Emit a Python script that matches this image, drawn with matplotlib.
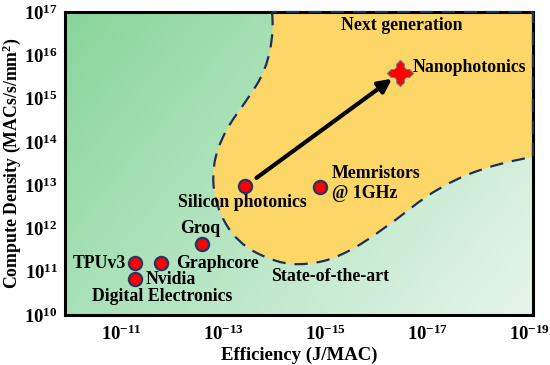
import numpy as np
import matplotlib
matplotlib.use("Agg")
import matplotlib.pyplot as plt
from matplotlib.path import Path
from matplotlib.patches import PathPatch
from matplotlib.colors import LinearSegmentedColormap

plt.rcParams['font.family'] = ['Liberation Serif', 'DejaVu Serif']
plt.rcParams['font.weight'] = 'bold'
plt.rcParams['mathtext.fontset'] = 'custom'
plt.rcParams['mathtext.rm'] = 'Liberation Serif:bold'
plt.rcParams['mathtext.it'] = 'Liberation Serif:bold:italic'
plt.rcParams['mathtext.bf'] = 'Liberation Serif:bold'

# === DATA ===
chips = ["TPUv3", "Graphcore", "Nvidia", "Groq", "Silicon photonics", "Memristors"]
efficiency = [5.3e-12, 1.66e-12, 5.3e-12, 2.6e-13, 3.7e-14, 1.3e-15]   # J/MAC
density = [1.6e11, 1.6e11, 6.8e10, 4.4e11, 9.5e12, 9.1e12]            # MACs/s/mm^2

nano_eff = 3.5e-17
nano_dens = 3.9e15

x_ticks = [1e-11, 1e-13, 1e-15, 1e-17, 1e-19]
y_ticks = [1e10, 1e11, 1e12, 1e13, 1e14, 1e15, 1e16, 1e17]
xlim = (1.25e-10, 8.7e-20)
ylim = (1e10, 1e17)

# boundary of the "next generation" region (log10 J/MAC, log10 density)
region_logx = [-13.955, -13.994, -13.838, -13.466, -13.035, -12.781, -12.84, -13.27,
               -14.053, -14.64, -15.286, -16.127, -17.24, -18.417, -19.06]
region_logy = [17.0, 16.58, 15.66, 14.965, 14.27, 13.46, 12.54, 11.66,
               11.20, 11.155, 11.34, 11.96, 13.0, 13.53, 13.65]

# === FIGURE ===
fig, ax = plt.subplots(figsize=(5.5, 3.65), dpi=100)
fig.subplots_adjust(left=0.118, right=0.969, top=0.967, bottom=0.137)
ax.set_xscale('log')
ax.set_yscale('log')
ax.set_xlim(*xlim)
ax.set_ylim(*ylim)

# green background gradient (dark top-left -> pale bottom-right)
gx, gy = np.meshgrid(np.linspace(0, 1, 200), np.linspace(0, 1, 200))
grad = 0.65 * gx + 0.35 * gy
cmap = LinearSegmentedColormap.from_list("bg", ["#88D69B", "#E6F5EC"])
ax.imshow(grad, cmap=cmap, extent=[0, 1, 0, 1], transform=ax.transAxes,
          aspect='auto', zorder=0, vmin=0, vmax=1)

# region as quadratic b-spline through the traced outline
q = np.column_stack([10.0 ** np.array(region_logx), 10.0 ** np.array(region_logy)])
verts = [q[0]]
codes = [Path.MOVETO]
for i in range(1, len(q) - 1):
    if i < len(q) - 2:
        end = np.sqrt(q[i] * q[i + 1])  # midpoint in log space
    else:
        end = q[-1]
    verts += [q[i], end]
    codes += [Path.CURVE3, Path.CURVE3]
verts += [(xlim[1], ylim[1]), q[0], q[0]]
codes += [Path.LINETO, Path.LINETO, Path.CLOSEPOLY]
region = Path(verts, codes)
ax.add_patch(PathPatch(region, facecolor="#FCD667", edgecolor='none', zorder=1))
ax.add_patch(PathPatch(region, facecolor='none', edgecolor="#1B2F5A", lw=1.6,
                       linestyle=(0, (6, 4)), zorder=4, clip_on=False))

# arrow
ax.annotate('', xy=(nano_eff, nano_dens), xytext=(efficiency[4], density[4]),
            arrowprops=dict(arrowstyle='-|>', color='black', lw=3,
                            mutation_scale=20, shrinkA=10, shrinkB=7), zorder=5)

# points
ax.plot(efficiency, density, 'o', ms=9.5, mfc='#FF0000', mec='#1F3864', mew=1.6,
        zorder=6, linestyle='none')

star = [(0, 1), (0.3, 0.7), (0.3, 0.45), (0.45, 0.3), (0.7, 0.3), (1, 0),
        (0.7, -0.3), (0.45, -0.3), (0.3, -0.45), (0.3, -0.7), (0, -1),
        (-0.3, -0.7), (-0.3, -0.45), (-0.45, -0.3), (-0.7, -0.3), (-1, 0),
        (-0.7, 0.3), (-0.45, 0.3), (-0.3, 0.45), (-0.3, 0.7), (0, 1)]
ax.plot([nano_eff], [nano_dens], marker=star, ms=19, mfc='#FF0000', mec='#7F7F7F',
        mew=0.8, zorder=6, linestyle='none')

# labels
fs = 12.8
ax.text(10 ** -11.1, 10 ** 11.2, "TPUv3", ha='right', va='center', fontsize=fs, zorder=7)
ax.text(10 ** -12.08, 10 ** 11.2, "Graphcore", ha='left', va='center', fontsize=fs, zorder=7)
ax.text(10 ** -11.49, 10 ** 10.83, "Nvidia", ha='left', va='center', fontsize=fs, zorder=7)
ax.text(10 ** -11.8, 10 ** 10.42, "Digital Electronics", ha='center', va='center', fontsize=fs, zorder=7)
ax.text(10 ** -12.55, 10 ** 11.99, "Groq", ha='center', va='center', fontsize=fs, zorder=7)
ax.text(10 ** -13.37, 10 ** 12.59, "Silicon photonics", ha='center', va='center', fontsize=fs, zorder=7)
ax.text(10 ** -15.13, 10 ** 13.03, "Memristors\n@ 1GHz", ha='left', va='center',
        fontsize=fs, linespacing=1.25, zorder=7)
ax.text(10 ** -15.09, 10 ** 10.88, "State-of-the-art", ha='center', va='center', fontsize=fs, zorder=7)
ax.text(10 ** -16.5, 10 ** 16.70, "Next generation", ha='center', va='center', fontsize=fs, zorder=7)
ax.text(10 ** -16.71, 10 ** 15.73, "Nanophotonics", ha='left', va='center', fontsize=fs, zorder=7)

# axes styling
ax.set_xticks(x_ticks)
ax.set_yticks(y_ticks)
ax.minorticks_off()
ax.tick_params(length=0, labelsize=13.5)
ax.tick_params(axis='x', pad=7)
ax.tick_params(axis='y', pad=5)
ax.set_xlabel("Efficiency (J/MAC)", fontsize=13.5, fontweight='bold', labelpad=2)
ax.set_ylabel("Compute Density (MACs/s/mm$^2$)", fontsize=12.8, fontweight='bold', labelpad=1)
for side in ax.spines.values():
    side.set_linewidth(2.2)
    side.set_zorder(3)

plt.savefig("out.png", dpi=100)
